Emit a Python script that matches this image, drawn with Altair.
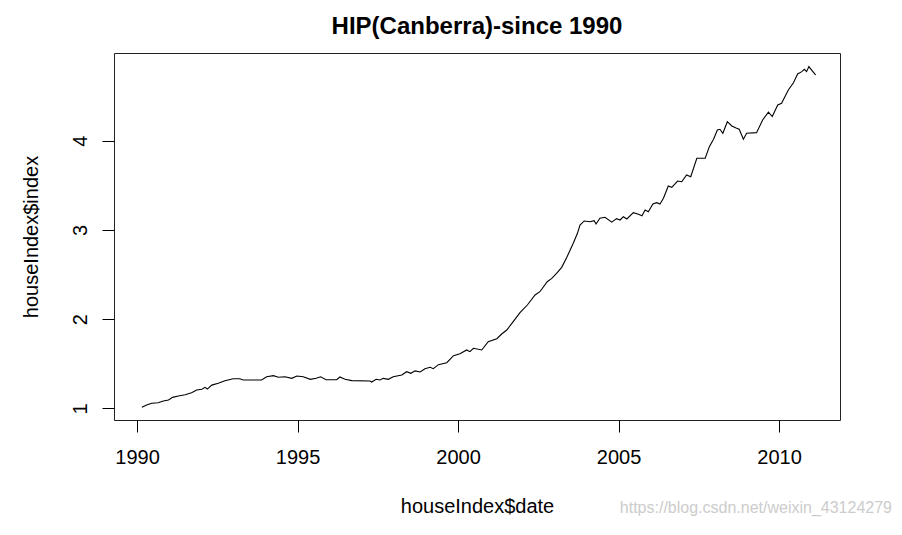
import altair as alt
import pandas as pd

TITLE = "HIP(Canberra)-since 1990"
X_TITLE = "houseIndex$date"
Y_TITLE = "houseIndex$index"
WATERMARK = "https://blog.csdn.net/weixin_43124279"

x_ticks = [1990, 1995, 2000, 2005, 2010]
y_ticks = [1, 2, 3, 4]

years = [
    1990.15, 1990.30, 1990.46, 1990.66, 1990.82, 1990.98, 1991.11, 1991.29,
    1991.50, 1991.70, 1991.86, 1992.02, 1992.12, 1992.19, 1992.33, 1992.53,
    1992.74, 1993.00, 1993.20, 1993.31, 1993.62, 1993.88, 1994.04, 1994.25,
    1994.40, 1994.61, 1994.82, 1994.98, 1995.18, 1995.40, 1995.58, 1995.72,
    1995.89, 1996.22, 1996.32, 1996.48, 1996.69, 1997.26, 1997.31, 1997.45,
    1997.57, 1997.67, 1997.83, 1997.98, 1998.25, 1998.40, 1998.53, 1998.66,
    1998.82, 1998.97, 1999.13, 1999.23, 1999.39, 1999.65, 1999.86, 2000.06,
    2000.27, 2000.37, 2000.48, 2000.74, 2000.94, 2001.21, 2001.36, 2001.52,
    2001.72, 2001.93, 2002.16, 2002.40, 2002.55, 2002.78, 2002.92, 2003.07,
    2003.23, 2003.39, 2003.59, 2003.72, 2003.80, 2003.93, 2004.11, 2004.24,
    2004.30, 2004.42, 2004.58, 2004.79, 2004.94, 2005.05, 2005.15, 2005.26,
    2005.46, 2005.62, 2005.73, 2005.83, 2005.93, 2006.07, 2006.19, 2006.29,
    2006.40, 2006.55, 2006.66, 2006.84, 2006.97, 2007.12, 2007.25, 2007.44,
    2007.70, 2007.83, 2007.96, 2008.08, 2008.16, 2008.25, 2008.39, 2008.53,
    2008.68, 2008.76, 2008.89, 2008.99, 2009.30, 2009.49, 2009.67, 2009.79,
    2009.96, 2010.08, 2010.29, 2010.45, 2010.58, 2010.71, 2010.79, 2010.86,
    2010.93, 2011.03, 2011.14,
]
index_values = [
    1.011, 1.037, 1.056, 1.063, 1.082, 1.093, 1.123, 1.138,
    1.153, 1.175, 1.205, 1.213, 1.235, 1.216, 1.260, 1.280,
    1.310, 1.332, 1.332, 1.317, 1.317, 1.317, 1.354, 1.366,
    1.348, 1.354, 1.336, 1.362, 1.354, 1.325, 1.336, 1.354,
    1.321, 1.321, 1.351, 1.325, 1.310, 1.306, 1.295, 1.325,
    1.317, 1.336, 1.325, 1.354, 1.373, 1.410, 1.392, 1.420,
    1.407, 1.444, 1.460, 1.444, 1.489, 1.511, 1.590, 1.612,
    1.654, 1.635, 1.673, 1.654, 1.747, 1.780, 1.833, 1.878,
    1.971, 2.072, 2.158, 2.270, 2.307, 2.419, 2.457, 2.513,
    2.580, 2.693, 2.850, 2.962, 3.055, 3.100, 3.092, 3.103,
    3.066, 3.130, 3.141, 3.087, 3.126, 3.111, 3.148, 3.122,
    3.193, 3.175, 3.159, 3.223, 3.204, 3.290, 3.305, 3.290,
    3.354, 3.492, 3.478, 3.548, 3.540, 3.616, 3.596, 3.803,
    3.803, 3.933, 4.016, 4.120, 4.128, 4.083, 4.213, 4.165,
    4.139, 4.128, 4.016, 4.083, 4.090, 4.232, 4.320, 4.270,
    4.400, 4.419, 4.568, 4.650, 4.748, 4.774, 4.800, 4.774,
    4.830, 4.785, 4.737,
]

df = pd.DataFrame({"year": years, "index": index_values})

FONT = "Liberation Sans"
W, H = 726, 367

line = alt.Chart(df).mark_line(color="black", strokeWidth=1.1).encode(
    x=alt.X(
        "year:Q",
        scale=alt.Scale(domain=[1989.283, 2011.90], nice=False, zero=False),
        axis=alt.Axis(
            values=x_ticks, format="d", title=X_TITLE, grid=False, domain=False,
            tickSize=12, tickColor="black", labelFontSize=20, labelFont=FONT,
            labelColor="black", labelPadding=31, labelBaseline="alphabetic",
            labelFlush=False, labelOverlap=False,
            titleFont=FONT, titleFontSize=20, titleFontWeight="normal",
            titleColor="black", titleX=W / 2, titleY=92,
            titleBaseline="alphabetic", titleAlign="center",
        ),
    ),
    y=alt.Y(
        "index:Q",
        scale=alt.Scale(domain=[0.869, 4.983], nice=False, zero=False),
        axis=alt.Axis(
            values=y_ticks, format="d", title=Y_TITLE, grid=False, domain=False,
            tickSize=12, tickColor="black", labelFontSize=20, labelFont=FONT,
            labelColor="black", labelAngle=270, labelAlign="center",
            labelBaseline="alphabetic", labelPadding=16, labelFlush=False,
            labelOverlap=False,
            titleFont=FONT, titleFontSize=20, titleFontWeight="normal",
            titleColor="black", titleAngle=270, titleX=-77, titleY=H / 2,
            titleBaseline="alphabetic", titleAlign="center",
        ),
    ),
)

wm = alt.Chart(pd.DataFrame({"t": [WATERMARK]})).mark_text(
    align="right", baseline="alphabetic", fontSize=16, font=FONT, color="#cccccc"
).encode(x=alt.value(778), y=alt.value(460), text="t:N")

chart = alt.layer(line, wm).properties(
    width=W,
    height=H,
    title=alt.TitleParams(
        TITLE, fontSize=24, font=FONT, fontWeight="bold", anchor="middle",
        baseline="alphabetic", offset=18, dy=23, frame="group", color="black",
    ),
    autosize=alt.AutoSizeParams(type="none"),
    padding={"left": 106, "top": 45, "right": 54, "bottom": 104},
).configure(
    background="white",
    view=alt.ViewConfig(stroke="#222222", strokeWidth=1),
)

chart.save("out.html", embed_options={"renderer": "svg", "actions": False})
